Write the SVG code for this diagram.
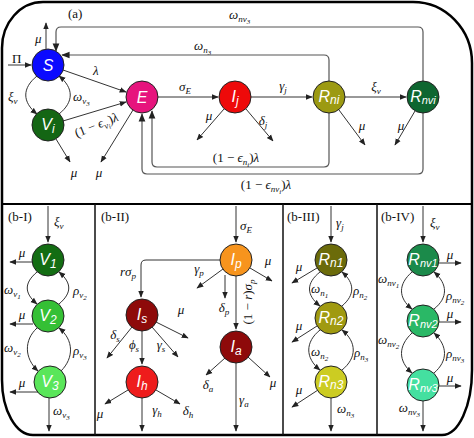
<svg xmlns="http://www.w3.org/2000/svg" width="474" height="438" viewBox="0 0 474 438">
<defs>
<marker id="ah" viewBox="0 0 10 10" refX="9" refY="5" markerWidth="7" markerHeight="7" orient="auto"><path d="M0,1 L10,5 L0,9 z" fill="#222"/></marker>
<style>
.n circle{stroke:#222;stroke-width:1}
.nl{font-family:"Liberation Sans",Arial,sans-serif;font-style:italic;fill:#fff;font-size:16px;text-anchor:middle}
.m{font-family:"Liberation Serif","Times New Roman",serif;font-style:italic;font-size:13px;fill:#111}
.p{font-family:"Liberation Serif","Times New Roman",serif;font-size:13px;fill:#111}
.up{font-style:normal}
.mid{text-anchor:middle}
.end{text-anchor:end}
.c path{fill:none;stroke:#333;stroke-width:1;marker-end:url(#ah)}
.c path.lp{stroke:#555;stroke-width:1.2}
.s{font-size:9px}
.ss{font-size:7px}
.frame{fill:#fff;stroke:#000;stroke-width:2.5}
.div{stroke:#111;stroke-width:1.5}
</style>
</defs>
<rect width="474" height="438" fill="#fff"/>
<g id="frame">
<path class="frame" d="M2,48 A41,46 0 0 1 43,2 L413,2 A59,61 0 0 1 472,63 L472,370 A30,65 0 0 1 442,435 L33,435 A31,55 0 0 1 2,380 Z"/>
<path d="M2,204 H472" stroke="#000" stroke-width="2"/>
<path class="div" d="M95,204 V435 M283,204 V435 M377,204 V435"/>
</g>

<g id="connectors" class="c">
<path d="M8,65 H31"/>
<path d="M46,49 V23"/>
<path class="lp" d="M423,81 V32 Q423,27 418,27 H61 Q56,27 56,32 V51"/>
<path class="lp" d="M329,81 V60 Q329,55 324,55 H62"/>
<path d="M63,70 L126,92"/>
<path d="M63,121 L126,102"/>
<path d="M37,76 C22,88 22,102 37,114"/>
<path d="M59,114 C74,102 74,88 59,76"/>
<path d="M56,139 L70,162"/>
<path d="M133,110 L101,162"/>
<path d="M158,97 H218"/>
<path d="M224,109 L197,140"/>
<path d="M246,109 L273,141"/>
<path d="M251,97 H312"/>
<path d="M339,110 L365,145"/>
<path d="M345,97 H406"/>
<path d="M415,111 L395,145"/>
<path class="lp" d="M329,113 V162 Q329,167 324,167 H157 Q152,167 152,162 V111"/>
<path class="lp" d="M423,113 V169 Q423,174 418,174 H147 Q142,174 142,169 V114"/>

<path d="M48,206 V242"/>
<path d="M32,262 H10"/>
<path d="M37,272 C24,283 24,293 37,304"/>
<path d="M59,304 C72,293 72,283 59,272"/>
<path d="M33,324 H10"/>
<path d="M37,328 C24,340 24,358 38,371"/>
<path d="M61,371 C74,358 74,340 59,328"/>
<path d="M38,392 H10"/>
<path d="M49,398 V431"/>

<path d="M236,206 V242"/>
<path d="M220,260 H146 Q141,260 141,265 V297"/>
<path d="M223,269 L197,288"/>
<path d="M225,275 V298"/>
<path d="M236,276 V329"/>
<path d="M250,268 L272,281"/>
<path d="M156,322 L188,338"/>
<path d="M132,327 L107,358"/>
<path d="M142,331 V364"/>
<path d="M152,327 L178,357"/>
<path d="M128,390 L105,404"/>
<path d="M142,398 V431"/>
<path d="M156,390 L180,404"/>
<path d="M225,358 L206,375"/>
<path d="M248,357 L270,377"/>
<path d="M236,363 V431"/>

<path d="M331,206 V242"/>
<path d="M317,268 L292,283"/>
<path d="M320,272 C306,283 306,295 320,306"/>
<path d="M342,306 C355,295 355,283 342,272"/>
<path d="M317,326 L292,342"/>
<path d="M320,330 C305,342 305,358 320,370"/>
<path d="M342,370 C357,358 357,342 342,330"/>
<path d="M318,390 L292,407"/>
<path d="M331,398 V431"/>

<path d="M423,206 V242"/>
<path d="M439,263 H461"/>
<path d="M412,272 C398,284 398,298 412,309"/>
<path d="M434,309 C448,298 448,284 434,272"/>
<path d="M439,322 H461"/>
<path d="M412,333 C398,346 398,361 412,373"/>
<path d="M434,373 C448,361 448,346 434,333"/>
<path d="M439,386 H461"/>
<path d="M423,401 V431"/>
</g>

<g id="S" class="n"><circle cx="48" cy="65" r="16" fill="#0a0aff"/><text class="nl" x="48" y="71">S</text></g>
<g id="Vi" class="n"><circle cx="48" cy="125" r="16" fill="#146614"/><text class="nl" x="48" y="130">V<tspan dy="3" font-size="12">i</tspan></text></g>
<g id="E" class="n"><circle cx="142" cy="97" r="16" fill="#e6147d"/><text class="nl" x="142" y="103">E</text></g>
<g id="Ij" class="n"><circle cx="235" cy="97" r="16" fill="#ee0a0a"/><text class="nl" x="235" y="102">I<tspan dy="3" font-size="12">j</tspan></text></g>
<g id="Rni" class="n"><circle cx="329" cy="97" r="16" fill="#9c9a12"/><text class="nl" x="329" y="102" font-size="15">R<tspan dy="2" font-size="12">ni</tspan></text></g>
<g id="Rnvi" class="n"><circle cx="423" cy="97" r="16" fill="#0e6630"/><text class="nl" x="423" y="102" font-size="15">R<tspan dy="2" font-size="11">nvi</tspan></text></g>

<g id="V1" class="n"><circle cx="48" cy="260" r="16" fill="#136d13"/><text class="nl" x="48" y="265">V<tspan dy="3" font-size="12">1</tspan></text></g>
<g id="V2" class="n"><circle cx="48" cy="316" r="16" fill="#35c035"/><text class="nl" x="48" y="321">V<tspan dy="3" font-size="12">2</tspan></text></g>
<g id="V3" class="n"><circle cx="50" cy="382" r="16" fill="#5ae65a"/><text class="nl" x="50" y="387">V<tspan dy="3" font-size="12">3</tspan></text></g>

<g id="Ip" class="n"><circle cx="236" cy="260" r="16" fill="#f7941d"/><text class="nl" x="236" y="265">I<tspan dy="3" font-size="12">p</tspan></text></g>
<g id="Is" class="n"><circle cx="142" cy="315" r="16" fill="#8e0a0a"/><text class="nl" x="142" y="320">I<tspan dy="3" font-size="12">s</tspan></text></g>
<g id="Ih" class="n"><circle cx="142" cy="382" r="16" fill="#ee1c1c"/><text class="nl" x="142" y="387">I<tspan dy="3" font-size="12">h</tspan></text></g>
<g id="Ia" class="n"><circle cx="236" cy="347" r="16" fill="#8e0a0a"/><text class="nl" x="236" y="352">I<tspan dy="3" font-size="12">a</tspan></text></g>

<g id="Rn1" class="n"><circle cx="331" cy="260" r="16" fill="#6b6b0a"/><text class="nl" x="331" y="265" font-size="15">R<tspan dy="2" font-size="12">n1</tspan></text></g>
<g id="Rn2" class="n"><circle cx="331" cy="318" r="16" fill="#a09a10"/><text class="nl" x="331" y="323" font-size="15">R<tspan dy="2" font-size="12">n2</tspan></text></g>
<g id="Rn3" class="n"><circle cx="331" cy="382" r="16" fill="#cccc22"/><text class="nl" x="331" y="387" font-size="15">R<tspan dy="2" font-size="12">n3</tspan></text></g>

<g id="Rnv1" class="n"><circle cx="423" cy="260" r="16" fill="#1b8a4a"/><text class="nl" x="423" y="265" font-size="15">R<tspan dy="2" font-size="11">nv1</tspan></text></g>
<g id="Rnv2" class="n"><circle cx="423" cy="321" r="16" fill="#2ab866"/><text class="nl" x="423" y="326" font-size="15">R<tspan dy="2" font-size="11">nv2</tspan></text></g>
<g id="Rnv3" class="n"><circle cx="423" cy="385" r="16" fill="#44e0a0"/><text class="nl" x="423" y="390" font-size="15">R<tspan dy="2" font-size="11">nv3</tspan></text></g>

<g id="labels">
<text class="p" x="68" y="18">(a)</text>
<text class="m" x="229" y="19">ω<tspan class="s" dy="3">nv</tspan><tspan class="ss" dy="1.5">3</tspan></text>
<text class="m" x="194" y="50">ω<tspan class="s" dy="3">n</tspan><tspan class="ss" dy="1.5">3</tspan></text>
<text class="p" x="12" y="63">Π</text>
<text class="m" x="35" y="43">μ</text>
<text class="m" x="93" y="75">λ</text>
<text class="m" x="8" y="101">ξ<tspan class="s" dy="3">v</tspan></text>
<text class="m" x="73" y="101">ω<tspan class="s" dy="3">v</tspan><tspan class="ss" dy="1.5">3</tspan></text>
<text class="m mid" transform="rotate(-22 98 129)" x="98" y="129"><tspan class="up">(1 − </tspan>ϵ<tspan class="s" dy="3">v</tspan><tspan class="ss" dy="1.5">i</tspan><tspan class="up" dy="-4.5">)</tspan>λ</text>
<text class="m mid" x="74" y="177">μ</text>
<text class="m mid" x="99" y="177">μ</text>
<text class="m mid" x="185" y="91">σ<tspan class="s" dy="3">E</tspan></text>
<text class="m mid" x="209" y="120">μ</text>
<text class="m mid" x="263" y="125">δ<tspan class="s" dy="3">j</tspan></text>
<text class="m mid" x="283" y="90">γ<tspan class="s" dy="3">j</tspan></text>
<text class="m mid" x="362" y="130">μ</text>
<text class="m mid" x="376" y="91">ξ<tspan class="s" dy="3">v</tspan></text>
<text class="m mid" x="401" y="130">μ</text>
<text class="m mid" x="236" y="162"><tspan class="up">(1 − </tspan>ϵ<tspan class="s" dy="3">n</tspan><tspan class="ss" dy="1.5">i</tspan><tspan class="up" dy="-4.5">)</tspan>λ</text>
<text class="m mid" x="266" y="189"><tspan class="up">(1 − </tspan>ϵ<tspan class="s" dy="3">nv</tspan><tspan class="ss" dy="1.5">i</tspan><tspan class="up" dy="-4.5">)</tspan>λ</text>

<text class="p" x="8" y="221">(b-I)</text>
<text class="m" x="54" y="226">ξ<tspan class="s" dy="3">v</tspan></text>
<text class="m mid" x="22" y="257">μ</text>
<text class="m" x="4" y="294">ω<tspan class="s" dy="3">v</tspan><tspan class="ss" dy="1.5">1</tspan></text>
<text class="m" x="73" y="295">ρ<tspan class="s" dy="3">v</tspan><tspan class="ss" dy="1.5">2</tspan></text>
<text class="m mid" x="22" y="319">μ</text>
<text class="m" x="4" y="352">ω<tspan class="s" dy="3">v</tspan><tspan class="ss" dy="1.5">2</tspan></text>
<text class="m" x="73" y="355">ρ<tspan class="s" dy="3">v</tspan><tspan class="ss" dy="1.5">3</tspan></text>
<text class="m mid" x="22" y="387">μ</text>
<text class="m" x="53" y="415">ω<tspan class="s" dy="3">v</tspan><tspan class="ss" dy="1.5">3</tspan></text>

<text class="p" x="101" y="221">(b-II)</text>
<text class="m" x="240" y="230">σ<tspan class="s" dy="3">E</tspan></text>
<text class="m mid" x="128" y="276">rσ<tspan class="s" dy="3">p</tspan></text>
<text class="m mid" x="199" y="273">γ<tspan class="s" dy="3">p</tspan></text>
<text class="m mid" x="224" y="312">δ<tspan class="s" dy="3">p</tspan></text>
<text class="m mid" transform="rotate(-90 252 302)" x="252" y="302"><tspan class="up">(1 − </tspan>r<tspan class="up">)</tspan>σ<tspan class="s" dy="3">p</tspan></text>
<text class="m mid" x="268" y="265">μ</text>
<text class="m mid" x="181" y="314">μ</text>
<text class="m mid" x="115" y="339">δ<tspan class="s" dy="3">s</tspan></text>
<text class="m mid" x="134" y="349">ϕ<tspan class="s" dy="3">s</tspan></text>
<text class="m mid" x="161" y="349">γ<tspan class="s" dy="3">s</tspan></text>
<text class="m mid" x="100" y="418">μ</text>
<text class="m mid" x="157" y="414">γ<tspan class="s" dy="3">h</tspan></text>
<text class="m mid" x="188" y="415">δ<tspan class="s" dy="3">h</tspan></text>
<text class="m mid" x="208" y="389">δ<tspan class="s" dy="3">a</tspan></text>
<text class="m mid" x="273" y="387">μ</text>
<text class="m" x="239" y="404">γ<tspan class="s" dy="3">a</tspan></text>

<text class="p" x="287" y="221">(b-III)</text>
<text class="m" x="336" y="227">γ<tspan class="s" dy="3">j</tspan></text>
<text class="m mid" x="299" y="271">μ</text>
<text class="m" x="311" y="293">ω<tspan class="s" dy="3">n</tspan><tspan class="ss" dy="1.5">1</tspan></text>
<text class="m" x="353" y="295">ρ<tspan class="s" dy="3">n</tspan><tspan class="ss" dy="1.5">2</tspan></text>
<text class="m mid" x="299" y="330">μ</text>
<text class="m" x="311" y="356">ω<tspan class="s" dy="3">n</tspan><tspan class="ss" dy="1.5">2</tspan></text>
<text class="m" x="354" y="357">ρ<tspan class="s" dy="3">n</tspan><tspan class="ss" dy="1.5">3</tspan></text>
<text class="m mid" x="299" y="394">μ</text>
<text class="m" x="337" y="413">ω<tspan class="s" dy="3">n</tspan><tspan class="ss" dy="1.5">3</tspan></text>

<text class="p" x="381" y="221">(b-IV)</text>
<text class="m" x="430" y="227">ξ<tspan class="s" dy="3">v</tspan></text>
<text class="m mid" x="450" y="259">μ</text>
<text class="m" x="378" y="283">ω<tspan class="s" dy="3">nv</tspan><tspan class="ss" dy="1.5">1</tspan></text>
<text class="m" x="446" y="300">ρ<tspan class="s" dy="3">nv</tspan><tspan class="ss" dy="1.5">2</tspan></text>
<text class="m mid" x="450" y="318">μ</text>
<text class="m" x="378" y="344">ω<tspan class="s" dy="3">nv</tspan><tspan class="ss" dy="1.5">2</tspan></text>
<text class="m" x="446" y="358">ρ<tspan class="s" dy="3">nv</tspan><tspan class="ss" dy="1.5">3</tspan></text>
<text class="m mid" x="450" y="382">μ</text>
<text class="m end" x="420" y="412">ω<tspan class="s" dy="3">nv</tspan><tspan class="ss" dy="1.5">3</tspan></text>
</g>
</svg>
